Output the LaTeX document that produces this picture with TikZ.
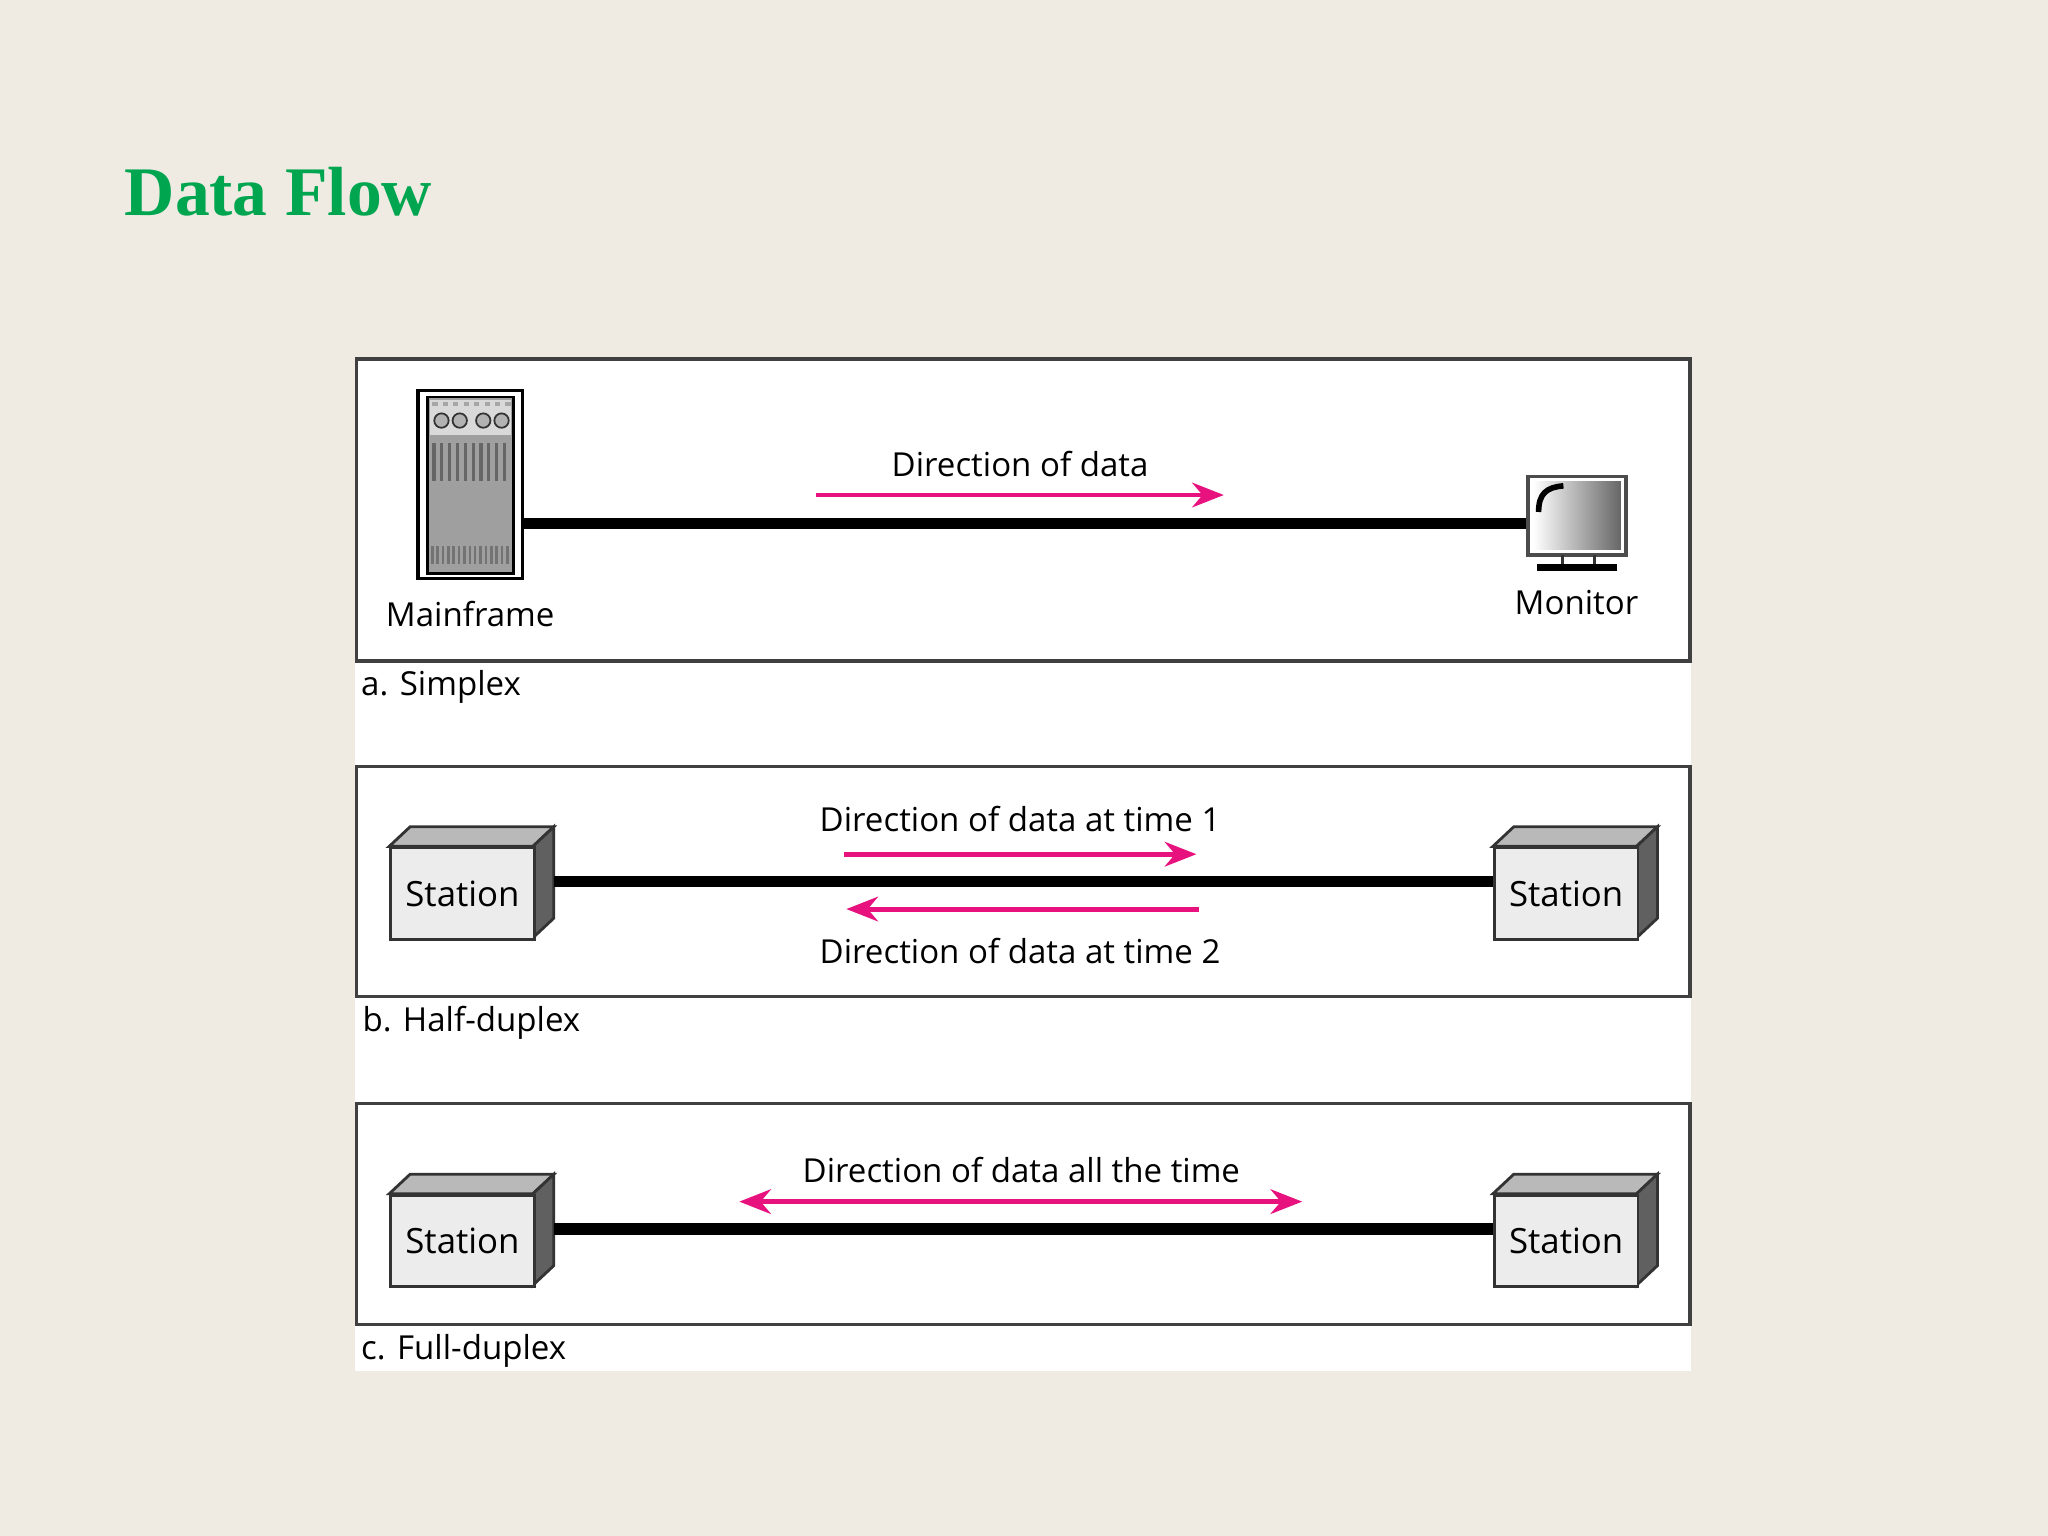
\documentclass[tikz,border=0pt]{standalone}
\usepackage{fontspec}
\setmainfont{Liberation Serif}
\newfontfamily\lab{Open Sans}
\usetikzlibrary{arrows.meta}
\definecolor{bg}{HTML}{EFEBE3}
\definecolor{mag}{HTML}{E8127F}
\definecolor{ttl}{HTML}{00A550}
\begin{document}
\begin{tikzpicture}[x=0.01306cm,y=-0.01306cm,
  panel/.style={draw=black!75,line width=1pt},
  link/.style={line width=3.2pt,black},
  flow/.style={mag,line width=1.4pt,-{Stealth[length=9pt,width=7pt]}},
  flow2/.style={mag,line width=1.4pt,{Stealth[length=9pt,width=7pt]}-{Stealth[length=9pt,width=7pt]}},
  txt/.style={font=\lab\fontsize{9.4}{11}\selectfont,inner sep=0pt}]
\fill[bg] (0,0) rectangle (1568,1176);
\useasboundingbox (0,0) rectangle (1568,1176);
\node[anchor=west,inner sep=0pt,text=ttl,font=\bfseries\fontsize{19.8}{23}\selectfont] (title) at (95,147) {Data Flow};
\fill[white] (272,275) rectangle (1295,1050);
% panel a
\draw[panel] (273,275) rectangle (1294,506);
\node[txt,anchor=west] (la) at (276,526) {a. Simplex};
% mainframe
\node[draw=black,line width=1pt,fill=white,minimum width=80*0.01306cm,minimum height=144*0.01306cm,inner sep=0pt] (mf) at (360,371) {};
\fill[gray!75] (328,305) rectangle (392,438);
\draw[black,line width=0.8pt] (327,304) rectangle (393,439);
\fill[gray!30] (329,306) rectangle (391,333);
\foreach \i in {0,...,7} \fill[gray!70] (331+\i*8,308) rectangle (335+\i*8,311);
\foreach \cx in {338,352,370,384} \draw[black!80,fill=gray!60,line width=0.5pt] (\cx,322) circle (5.5);
\foreach \i in {0,...,9} \fill[black!60] (331+\i*6,339) rectangle (333.5+\i*6,368);
\foreach \i in {0,...,14} \fill[black!55] (330+\i*4.1,418) rectangle (332+\i*4.1,432);
\node[txt] (mft) at (360,470) {Mainframe};
% monitor
\node[draw=black!70,line width=1pt,minimum width=75*0.01306cm,minimum height=60*0.01306cm,inner sep=0pt] (mon) at (1207.5,395) {};
\shade[left color=white,right color=gray!80!black] (1174,369) rectangle (1241,421);
\draw[black,line width=1.6pt] (1178,392) .. controls (1178,378) and (1184,373) .. (1197,372);
\draw[black!80,line width=0.8pt] (1196,425) -- (1196,432) (1221,425) -- (1221,432);
\fill[black] (1177,432) rectangle (1238,437);
\node[txt] (mont) at (1207,461) {Monitor};
\draw[link] (mf.east |- 0,401) -- (mon.west |- 0,401);
\node[txt] (da) at (781,355) {Direction of data};
\coordinate (a1) at (625,379); \coordinate (a2) at (937,379);
\draw[flow] (a1) -- (a2);
% station macro
\newcommand{\stat}[3]{%
  \fill[gray!55,draw=black!80,line width=0.8pt] (#1,#2) -- (#1+16,#2-15) -- (#1+126,#2-15) -- (#1+110,#2) -- cycle;
  \fill[gray!75!black,draw=black!80,line width=0.8pt] (#1+110,#2) -- (#1+126,#2-15) -- (#1+126,#2+55) -- (#1+110,#2+70) -- cycle;
  \node[draw=black!80,line width=0.8pt,fill=gray!15,minimum width=110*0.01306cm,minimum height=70*0.01306cm,inner sep=0pt,anchor=north west,font=\lab\fontsize{9.9}{12}\selectfont] (#3) at (#1,#2) {Station};}
% panel b
\draw[panel] (273,587) rectangle (1294,763);
\node[txt,anchor=west] (lb) at (277,783) {b. Half-duplex};
\stat{298}{648}{sb1}
\stat{1143}{648}{sb2}
\draw[link] (424,675) -- (sb2.west |- 0,675);
\node[txt] (t1) at (781,627) {Direction of data at time 1};
\node[txt] (t2) at (781,728) {Direction of data at time 2};
\coordinate (b1) at (646,654); \coordinate (b2) at (916,654);
\coordinate (b3) at (918,696); \coordinate (b4) at (648,696);
\draw[flow] (b1) -- (b2);
\draw[flow] (b3) -- (b4);
% panel c
\draw[panel] (273,845) rectangle (1294,1014);
\node[txt,anchor=west] (lc) at (276,1034) {c. Full-duplex};
\stat{298}{914}{sc1}
\stat{1143}{914}{sc2}
\draw[link] (424,941) -- (sc2.west |- 0,941);
\node[txt] (tc) at (782,896) {Direction of data all the time};
\coordinate (c1) at (566,920); \coordinate (c2) at (997,920);
\draw[flow2] (c1) -- (c2);
\end{tikzpicture}
\end{document}
